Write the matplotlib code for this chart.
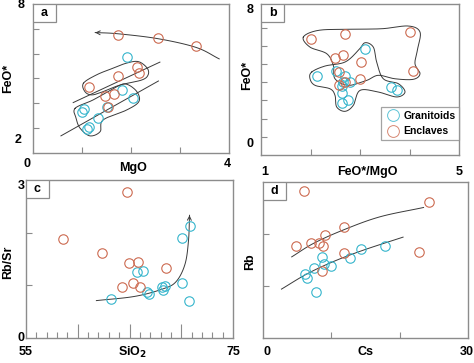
import numpy as np
import matplotlib
matplotlib.use("Agg")
import matplotlib.pyplot as plt
from matplotlib.patches import Rectangle

plt.rcParams['font.family'] = ['Liberation Sans', 'DejaVu Sans']
plt.rcParams['font.weight'] = 'bold'

# ===== colours =====
CYAN = '#35b5cc'
RED = '#cc6a50'
FRAME = '#8c8c8c'
LINE = '#3a3a3a'

# ===== panel a: FeO* vs MgO =====
a_gran_mgo = [1.91, 1.82, 2.04, 1.50, 1.05, 1.01, 1.33, 1.15, 1.10]
a_gran_feo = [5.86, 4.55, 4.21, 3.84, 3.78, 3.66, 3.40, 3.06, 2.95]
a_encl_mgo = [1.74, 2.56, 3.33, 2.12, 2.17, 1.74, 1.15, 1.46, 1.65, 1.53]
a_encl_feo = [6.76, 6.63, 6.29, 5.48, 5.22, 5.12, 4.64, 4.29, 4.39, 3.87]
a_arrow_mgo = [1.27, 1.74, 2.56, 3.33, 3.80]
a_arrow_feo = [6.85, 6.80, 6.60, 6.25, 5.79]
a_line1_mgo = [0.82, 2.59]
a_line1_feo = [4.03, 5.66]
a_line2_mgo = [0.57, 2.56]
a_line2_feo = [2.69, 4.90]
a_encl_hull_mgo = [1.03, 1.30, 1.64, 1.91, 2.15, 2.33, 2.35, 2.22, 1.78, 1.43, 1.20, 1.06]
a_encl_hull_feo = [4.81, 5.15, 5.42, 5.62, 5.68, 5.42, 5.15, 4.94, 4.74, 4.47, 4.34, 4.47]
a_gran_hull_mgo = [0.86, 1.23, 1.71, 1.91, 2.12, 2.16, 1.91, 1.43, 1.37, 1.16, 0.96, 0.88]
a_gran_hull_feo = [3.80, 4.14, 4.67, 4.77, 4.47, 4.07, 3.73, 3.33, 2.86, 2.69, 3.00, 3.40]

# ===== panel b: FeO* vs FeO*/MgO =====
b_gran_ratio = [3.10, 2.14, 2.52, 2.70, 2.66, 2.80, 2.64, 2.63, 2.76, 2.63, 3.62, 3.75]
b_gran_feo = [5.83, 4.34, 4.59, 4.34, 4.00, 4.03, 3.79, 3.43, 3.04, 2.86, 3.72, 3.56]
b_encl_ratio = [2.00, 2.70, 4.02, 4.08, 2.50, 2.65, 3.02, 2.58, 3.00, 2.57, 2.70]
b_encl_feo = [6.35, 6.66, 6.75, 4.64, 5.35, 5.47, 5.09, 4.57, 4.19, 3.85, 4.00]
b_encl_hull_ratio = [1.855, 2.158, 2.764, 3.438, 3.976, 4.212, 4.165, 4.111, 4.212, 4.077,
                     3.707, 3.370, 3.135, 2.764, 2.495, 2.461, 2.327, 1.990]
b_encl_hull_feo = [6.48, 6.85, 6.91, 6.94, 7.09, 6.76, 5.84, 5.02, 4.47, 4.16,
                   4.19, 4.38, 4.10, 3.83, 4.19, 4.93, 5.57, 5.93]
b_gran_hull_ratio = [2.024, 2.293, 2.697, 2.966, 3.101, 3.269, 3.337, 3.471, 3.774, 3.909,
                     3.741, 3.370, 3.000, 2.865, 2.697, 2.529, 2.495, 2.394, 2.091, 1.990]
b_gran_hull_feo = [4.56, 4.89, 5.11, 5.75, 6.17, 5.93, 5.11, 4.19, 3.92, 3.46,
                   3.19, 3.46, 3.55, 2.73, 2.40, 2.64, 3.28, 3.64, 3.83, 4.19]

# ===== panel c: Rb/Sr vs SiO2 =====
c_gran_si = [70.85, 70.04, 65.69, 66.27, 70.04, 68.11, 68.43, 68.27, 66.66, 66.91, 63.18, 70.78]
c_gran_rbsr = [2.13, 1.89, 1.25, 1.27, 1.04, 0.97, 0.99, 0.91, 0.88, 0.83, 0.74, 0.70]
c_encl_si = [64.73, 58.55, 62.31, 64.98, 65.79, 68.50, 65.37, 64.24, 66.01]
c_encl_rbsr = [2.77, 1.88, 1.61, 1.42, 1.45, 1.33, 1.04, 0.97, 0.96]
c_curve_si = [61.8, 65.5, 68.2, 69.5, 70.36, 70.7, 70.8]
c_curve_rbsr = [0.71, 0.79, 0.93, 1.07, 1.40, 1.85, 2.33]

# ===== panel d: Rb vs Cs =====
d_gran_cs = [17.9, 14.4, 12.7, 8.6, 8.9, 9.9, 7.5, 6.2, 6.4, 7.8]
d_gran_rb = [177, 171, 153, 155, 142, 139, 135, 123, 115, 89]
d_encl_cs = [6.0, 24.3, 11.8, 9.1, 7.0, 8.2, 8.8, 4.9, 11.8, 22.8, 8.6]
d_encl_rb = [283, 262, 214, 198, 182, 183, 177, 176, 164, 166, 128]
d_upper_cs = [4.2, 7.4, 11.8, 17.1, 23.5]
d_upper_rb = [156, 182, 208, 233, 251]
d_lower_cs = [2.7, 6.4, 10.3, 14.7, 20.5]
d_lower_rb = [94, 123, 147, 169, 194]


def catmull(xs, ys, closed=False, n=20):
    """Smooth curve through hand-read points (Catmull-Rom)."""
    p = np.column_stack([xs, ys]).astype(float)
    if closed:
        p = np.vstack([p[-1], p, p[0], p[1]])
    else:
        p = np.vstack([2 * p[0] - p[1], p, 2 * p[-1] - p[-2]])
    out = []
    t = np.linspace(0, 1, n, endpoint=False)[:, None]
    for i in range(1, len(p) - 2):
        p0, p1, p2, p3 = p[i - 1], p[i], p[i + 1], p[i + 2]
        seg = 0.5 * ((2 * p1) + (-p0 + p2) * t + (2 * p0 - 5 * p1 + 4 * p2 - p3) * t ** 2
                     + (-p0 + 3 * p1 - 3 * p2 + p3) * t ** 3)
        out.append(seg)
    out.append(p[-2][None, :])
    out = np.vstack(out)
    return out[:, 0], out[:, 1]


def scatter(ax, x, y, color):
    ax.plot(x, y, 'o', mfc='none', mec=color, ms=6.8, mew=0.8, zorder=3)


def style(ax, letter, w_px, h_px):
    for s in ax.spines.values():
        s.set_color(FRAME)
        s.set_linewidth(1.0)
    ax.tick_params(direction='in', length=4, width=0.8, color=FRAME,
                   labelbottom=False, labelleft=False)
    bw, bh = 23 / w_px, 18 / h_px
    ax.add_patch(Rectangle((0, 1 - bh), bw, bh, transform=ax.transAxes, fill=True,
                           fc='white', ec=FRAME, lw=0.9, zorder=5))
    ax.text(bw / 2, 1 - bh / 2, letter, transform=ax.transAxes, ha='center', va='center',
            fontsize=9, fontweight='bold', zorder=6)


fig = plt.figure(figsize=(4.74, 3.63), dpi=100)
W, H = 474, 363


def px(x0, y0, x1, y1):
    return [x0 / W, 1 - y1 / H, (x1 - x0) / W, (y1 - y0) / H]


def ftext(x, y, s, rot=0, size=9):
    fig.text(x / W, 1 - y / H, s, ha='center', va='center', rotation=rot,
             fontsize=size, fontweight='bold')


# ---- a ----
ax = fig.add_axes(px(33, 4, 229, 153))
ax.set_xlim(0, 4)
ax.set_ylim(2, 8)
ax.set_xticks([1, 2, 3])
ax.set_yticks([3, 4, 5, 6, 7])
style(ax, 'a', 196, 149)
hx, hy = catmull(a_encl_hull_mgo, a_encl_hull_feo, closed=True)
ax.plot(hx, hy, color=LINE, lw=0.7)
hx, hy = catmull(a_gran_hull_mgo, a_gran_hull_feo, closed=True)
ax.plot(hx, hy, color=LINE, lw=0.7)
ax.plot(a_line1_mgo, a_line1_feo, color=LINE, lw=0.7)
ax.plot(a_line2_mgo, a_line2_feo, color=LINE, lw=0.7)
cx, cy = catmull(a_arrow_mgo, a_arrow_feo)
ax.plot(cx, cy, color=LINE, lw=0.7)
ax.annotate('', xy=(cx[0], cy[0]), xytext=(cx[3], cy[3]),
            arrowprops=dict(arrowstyle='->', color=LINE, lw=0.7, mutation_scale=7))
scatter(ax, a_gran_mgo, a_gran_feo, CYAN)
scatter(ax, a_encl_mgo, a_encl_feo, RED)
ftext(21, 5, '8')
ftext(18, 140, '2')
ftext(27, 164, '0')
ftext(227, 164, '4')
ftext(133, 168, 'MgO')
ftext(8, 78, 'FeO*', rot=90)

# ---- b ----
ax = fig.add_axes(px(261, 4, 459, 155))
ax.set_xlim(1, 5)
ax.set_ylim(0, 8.3)
ax.set_xticks([2, 3, 4])
ax.set_yticks([1, 2, 3, 4, 5, 6, 7])
style(ax, 'b', 198, 151)
hx, hy = catmull(b_encl_hull_ratio, b_encl_hull_feo, closed=True)
ax.plot(hx, hy, color=LINE, lw=0.7)
hx, hy = catmull(b_gran_hull_ratio, b_gran_hull_feo, closed=True)
ax.plot(hx, hy, color=LINE, lw=0.7)
scatter(ax, b_gran_ratio, b_gran_feo, CYAN)
scatter(ax, b_encl_ratio, b_encl_feo, RED)
hg, = ax.plot([], [], 'o', mfc='none', mec=CYAN, ms=8.5, mew=0.7, alpha=0.8, label='Granitoids')
he, = ax.plot([], [], 'o', mfc='none', mec=RED, ms=8.5, mew=0.7, alpha=0.8, label='Enclaves')
leg = ax.legend(handles=[hg, he], loc='lower right', bbox_to_anchor=(1.0, 15 / 151),
                fontsize=7.5, frameon=True, fancybox=False, borderpad=0.35,
                handletextpad=0.25, handlelength=1.5, labelspacing=0.55,
                borderaxespad=0, numpoints=1)
leg.get_frame().set_edgecolor(FRAME)
leg.get_frame().set_linewidth(0.9)
for t in leg.get_texts():
    t.set_fontweight('bold')
ftext(250, 10, '8')
ftext(250, 144, '0')
ftext(265, 172, '1')
ftext(459, 172, '5')
ftext(367, 172, 'FeO*/MgO')
ftext(247, 75, 'FeO*', rot=90)

# ---- c ----
ax = fig.add_axes(px(26, 180, 233, 338))
ax.set_xlim(55, 75)
ax.set_ylim(0, 3)
ax.set_xticks([60, 65, 70])
ax.set_xticks(np.arange(56, 75), minor=True)
ax.set_yticks([1, 2])
style(ax, 'c', 207, 158)
ax.tick_params(axis='x', which='major', length=10)
ax.tick_params(axis='x', which='minor', direction='in', length=4, width=0.8, color=FRAME)
cx, cy = catmull(c_curve_si, c_curve_rbsr)
ax.plot(cx, cy, color=LINE, lw=0.7)
ax.annotate('', xy=(cx[-1], cy[-1]), xytext=(cx[-4], cy[-4]),
            arrowprops=dict(arrowstyle='->', color=LINE, lw=0.7, mutation_scale=7))
scatter(ax, c_gran_si, c_gran_rbsr, CYAN)
scatter(ax, c_encl_si, c_encl_rbsr, RED)
ftext(21, 186, '3')
ftext(21, 338, '0')
ftext(26, 352, '55')
ftext(233, 352, '75')
ftext(133, 352, 'SiO$_\\mathbf{2}$')
ftext(8, 262, 'Rb/Sr', rot=90)

# ---- d ----
ax = fig.add_axes(px(263, 182, 468, 338))
ax.set_xlim(0, 30)
ax.set_ylim(0, 300)
ax.set_xticks([10, 20])
ax.set_yticks([100, 200])
style(ax, 'd', 205, 156)
ux, uy = catmull(d_upper_cs, d_upper_rb)
ax.plot(ux, uy, color=LINE, lw=0.7)
lx, ly = catmull(d_lower_cs, d_lower_rb)
ax.plot(lx, ly, color=LINE, lw=0.7)
scatter(ax, d_gran_cs, d_gran_rb, CYAN)
scatter(ax, d_encl_cs, d_encl_rb, RED)
ftext(267, 352, '0')
ftext(467, 352, '30')
ftext(365, 352, 'Cs')
ftext(250, 262, 'Rb', rot=90)

fig.savefig('out.png', dpi=100)
